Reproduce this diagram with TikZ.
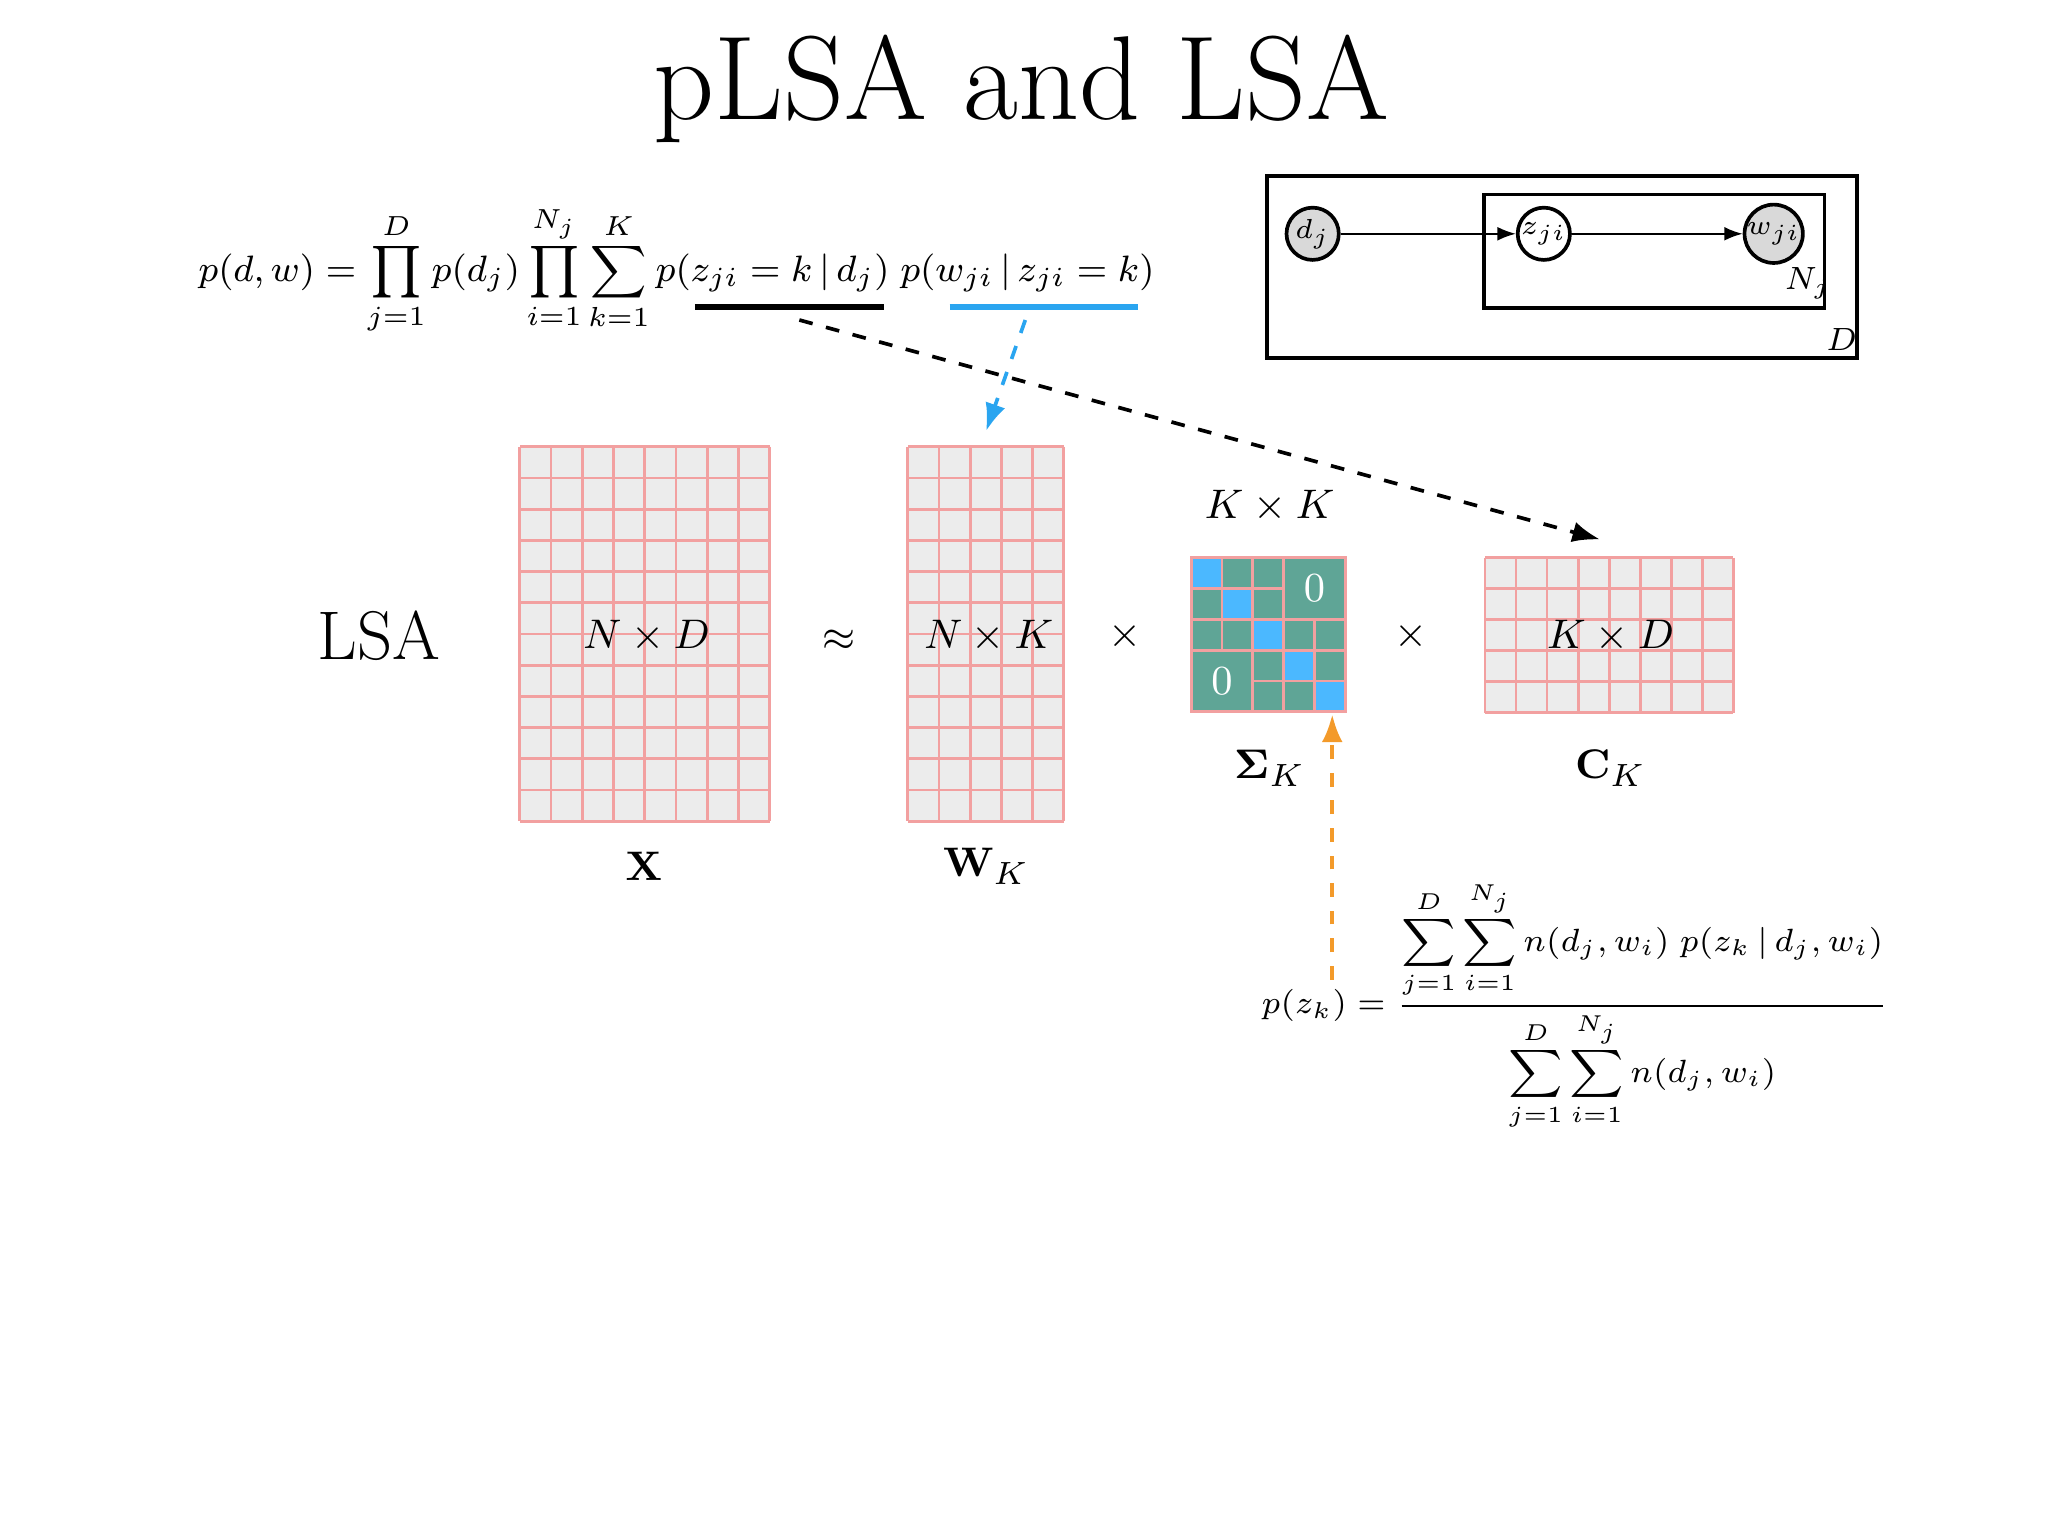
\documentclass[tikz,border=0pt]{standalone}
\usepackage{amsmath}
\usetikzlibrary{arrows.meta}
\definecolor{grid}{HTML}{F2A0A0}
\definecolor{cellbg}{HTML}{ECECEC}
\definecolor{teal2}{HTML}{5FA596}
\definecolor{blue2}{HTML}{4BB8FF}
\definecolor{under}{HTML}{2AA5F0}
\definecolor{orng}{HTML}{F39A2A}
\begin{document}
\begin{tikzpicture}[x=0.01cm,y=-0.01cm,
  mlab/.style={font=\fontsize{9.5}{11}\selectfont},
  gnode/.style={circle,draw,thick,minimum size=0.4cm,inner sep=0pt,font=\fontsize{6}{7}\selectfont},
  obs/.style={gnode,fill=gray!30},
  plate/.style={draw,thick},
  gl/.style={grid,semithick}]
\useasboundingbox (0,0) rectangle (1568,1176);
% title
\node (title) at (782,68) {\fontsize{26}{30}\selectfont pLSA and LSA};
% top formula
\node[font=\fontsize{8.5}{10}\selectfont] (f1) at (518,207) {$p(d,w)=\displaystyle\prod_{j=1}^{D}p(d_j)\prod_{i=1}^{N_j}\sum_{k=1}^{K}p(z_{ji}=k\,|\,d_j)\;p(w_{ji}\,|\,z_{ji}=k)$};
\coordinate (u1a) at (532,235); \coordinate (u1b) at (677,235);
\coordinate (u2a) at (727,235); \coordinate (u2b) at (871,235);
\draw[line width=1.2pt] (u1a) -- (u1b);
\draw[line width=1.2pt,under] (u2a) -- (u2b);
% plates
\draw[plate] (970,135) rectangle (1422,274);
\draw[plate] (1136,149) rectangle (1397,236);
\node[obs] (dj) at (1005,179) {$d_j$};
\node[gnode] (zji) at (1182,179) {$z_{ji}$};
\node[obs] (wji) at (1358,179) {$w_{ji}$};
\draw[-{Latex[length=4pt]}] (dj) -- (zji);
\draw[-{Latex[length=4pt]}] (zji) -- (wji);
\node[font=\fontsize{7}{8}\selectfont] (nj) at (1384,217) {$N_j$};
\node[font=\fontsize{7}{8}\selectfont] (dd) at (1410,260) {$D$};
% matrices
\newcommand{\mygrid}[5]{% x0 y0 cols rows cell
  \fill[cellbg] (#1,#2) rectangle ++(#3*#5,#4*#5);
  \foreach \i in {0,...,#3}{\draw[gl] (#1+\i*#5,#2) -- ++(0,#4*#5);}
  \foreach \j in {0,...,#4}{\draw[gl] (#1,#2+\j*#5) -- ++(#3*#5,0);}
}
\mygrid{398}{342}{8}{12}{23.9}
\mygrid{695}{342}{5}{12}{23.9}
\mygrid{1137}{427}{8}{5}{23.75}
\node[mlab] (X) at (495,487) {$N\times D$};
\node[mlab] (W) at (757,487) {$N\times K$};
\node[mlab] (C) at (1233,487) {$K\times D$};
\node[mlab] (Xl) at (493,663) {$\mathbf{X}$};
\node[mlab] (Wl) at (755,663) {$\mathbf{W}_K$};
\node[mlab] (Cl) at (1233,588) {$\mathbf{C}_K$};
\node[mlab] (Sl) at (972,588) {$\boldsymbol{\Sigma}_K$};
\node[mlab] (KK) at (972,388) {$K\times K$};
% sigma
\def\c{23.6}
\fill[teal2] (912,427) rectangle ++(5*\c,5*\c);
\foreach \k in {0,...,4}{\fill[blue2] (912+\k*\c,427+\k*\c) rectangle ++(\c,\c);}
\draw[gl] (912,427) rectangle ++(5*\c,5*\c);
\draw[gl] (912+\c,427) -- ++(0,3*\c);
\draw[gl] (912+2*\c,427) -- ++(0,5*\c);
\draw[gl] (912+3*\c,427) -- ++(0,5*\c);
\draw[gl] (912+4*\c,427+2*\c) -- ++(0,3*\c);
\draw[gl] (912,427+\c) -- ++(3*\c,0);
\draw[gl] (912,427+2*\c) -- ++(5*\c,0);
\draw[gl] (912,427+3*\c) -- ++(5*\c,0);
\draw[gl] (912+2*\c,427+4*\c) -- ++(3*\c,0);
\node[mlab,white] (z1) at (912+4*\c,427+\c) {$0$};
\node[mlab,white] (z2) at (912+\c,427+4*\c) {$0$};
% operators
\node[font=\fontsize{15}{18}\selectfont] (lsa) at (290,487) {LSA};
\node[mlab] (ap) at (642,490) {$\approx$};
\node[mlab] (t1) at (861,487) {$\times$};
\node[mlab] (t2) at (1080,487) {$\times$};
% arrows
\coordinate (a1s) at (612,245); \coordinate (a1e) at (1225,413);
\draw[thick,dashed,-{Latex[length=6pt]}] (a1s) -- (a1e);
\coordinate (a2s) at (785,245); \coordinate (a2e) at (755,330);
\draw[thick,dashed,under,-{Latex[length=6pt]}] (a2s) -- (a2e);
\coordinate (a3s) at (1020,750); \coordinate (a3e) at (1020,547);
\draw[thick,dashed,orng,-{Latex[length=6pt]}] (a3s) -- (a3e);
% pz formula
\node[font=\fontsize{7.3}{8.5}\selectfont] (pz) at (1206,770) {$p(z_k)=\dfrac{\displaystyle\sum_{j=1}^{D}\sum_{i=1}^{N_j}n(d_j,w_i)\;p(z_k\,|\,d_j,w_i)}{\displaystyle\sum_{j=1}^{D}\sum_{i=1}^{N_j}n(d_j,w_i)}$};
\end{tikzpicture}
\end{document}
